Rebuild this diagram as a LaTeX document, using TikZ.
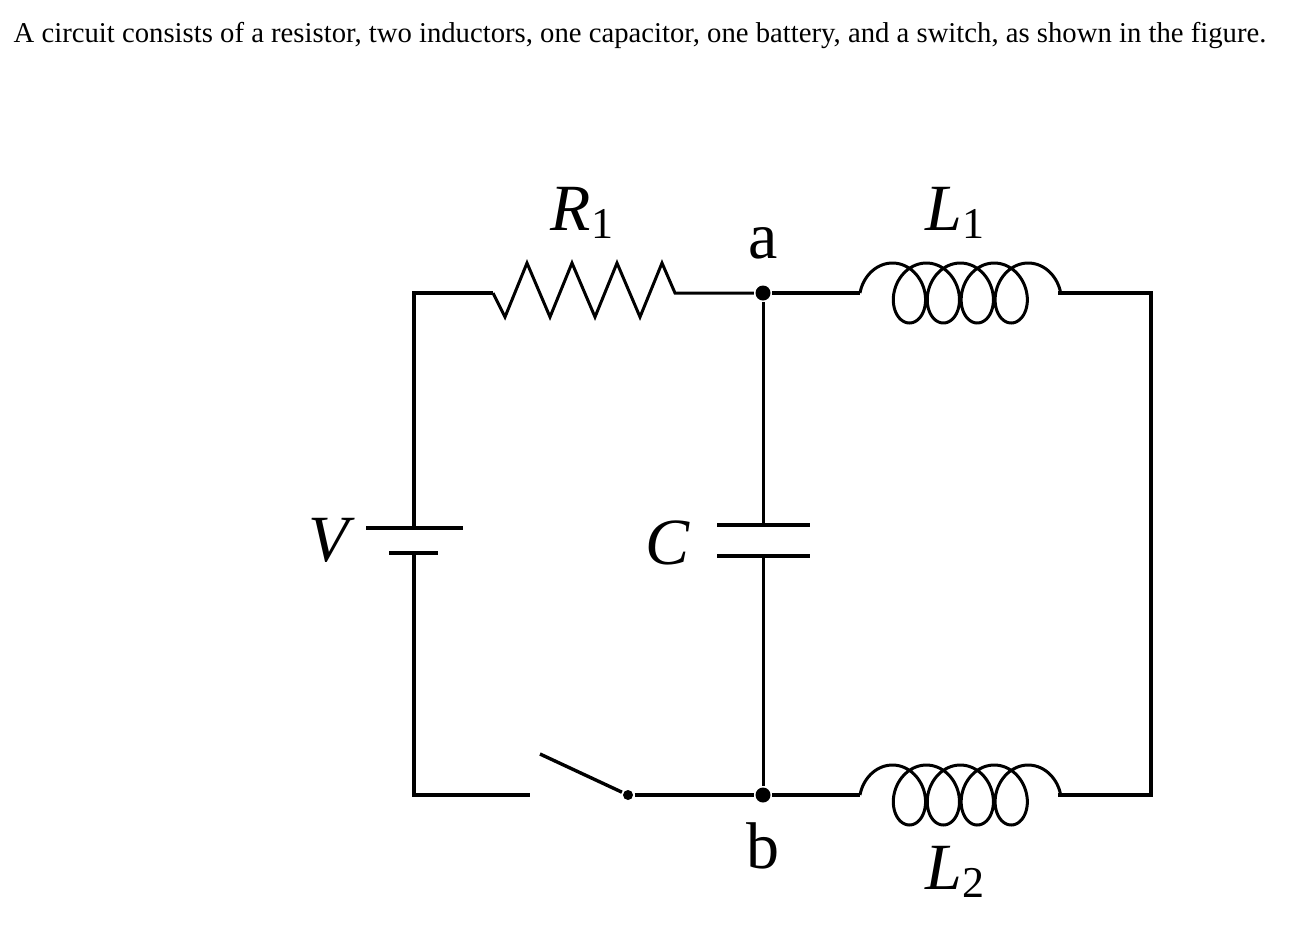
\documentclass[tikz,border=0pt]{standalone}
\usepackage{fontspec}
\setmainfont{Liberation Serif}
\begin{document}
\begin{tikzpicture}[x=1pt,y=-1pt,line width=3.4pt,
  dotn/.style={circle,fill=black,inner sep=0pt,minimum size=15pt},
  sdot/.style={circle,fill=black,inner sep=0pt,minimum size=10pt},
  lbl/.style={font=\fontsize{66}{72}\selectfont,inner sep=0pt},
  captext/.style={font=\fontsize{28.7}{34}\selectfont,inner sep=0pt}]
\useasboundingbox (0,0) rectangle (1308,946);
\node[captext,anchor=base west] (t) at (12,42) {A circuit consists of a resistor, two inductors, one capacitor, one battery, and a switch, as shown in the figure.};
% coordinates
\coordinate (tl) at (414,293);
\coordinate (tr) at (1151,293);
\coordinate (bl) at (414,795);
\coordinate (br) at (1151,795);
\coordinate (r0) at (493,293);
\coordinate (r1) at (675,293);
\coordinate (l10) at (860,293);
\coordinate (l11) at (1058,293);
\coordinate (l20) at (860,795);
\coordinate (l21) at (1058,795);
\coordinate (bp1) at (366,528); \coordinate (bp2) at (463,528);
\coordinate (bs1) at (389,553); \coordinate (bs2) at (438,553);
\coordinate (cp1) at (717,525); \coordinate (cp2) at (810,525);
\coordinate (cs1) at (717,556); \coordinate (cs2) at (810,556);
\coordinate (sw0) at (530,795);
\coordinate (swt) at (540,754);
\node[dotn] (a) at (763,293) {};
\node[dotn] (b) at (763,795) {};
\node[sdot] (s) at (628,795) {};
% wires
\draw[line join=miter] (r0) -- (tl) -- (414,528);
\draw (414,553) -- (bl) -- (sw0);
\draw (bp1) -- (bp2);
\draw (bs1) -- (bs2);
% resistor
\draw[line join=miter,line width=3pt] (r0) -- (505,317) -- (527,263) -- (550,317) -- (572,263) -- (595,317) -- (617,263) -- (640,317) -- (662,263) -- (r1) -- (a);
% inductors
\draw (a) -- (l10);
\draw[line width=3pt] plot[domain=pi/2:9.5*pi,samples=300,smooth,variable=\t] ({875.5+5.4*\t-24*sin(\t r)},{293+30*cos(\t r)});
\draw[line join=miter] (l11) -- (tr) -- (br) -- (l21);
\draw[line width=3pt] plot[domain=pi/2:9.5*pi,samples=300,smooth,variable=\t] ({875.5+5.4*\t-24*sin(\t r)},{795+30*cos(\t r)});
\draw (b) -- (l20);
% capacitor branch
\draw[line width=3pt] (a) -- (763,525);
\draw[line width=3pt] (763,556) -- (b);
\draw (cp1) -- (cp2);
\draw (cs1) -- (cs2);
% switch
\draw (swt) -- (s);
\draw (s) -- (b);
% labels
\node[lbl] (R) at (582,213) {\itshape R\raisebox{-8pt}{\fontsize{44}{48}\selectfont\upshape 1}};
\node[lbl] (la) at (763,243) {a};
\node[lbl] (L1) at (955,213) {\itshape L\raisebox{-8pt}{\fontsize{44}{48}\selectfont\upshape 1}};
\node[lbl] (V) at (329,540) {\itshape V};
\node[lbl] (C) at (668,543) {\itshape C};
\node[lbl] (lb) at (763,846) {b};
\node[lbl] (L2) at (955,872) {\itshape L\raisebox{-8pt}{\fontsize{44}{48}\selectfont\upshape 2}};
\end{tikzpicture}
\end{document}
